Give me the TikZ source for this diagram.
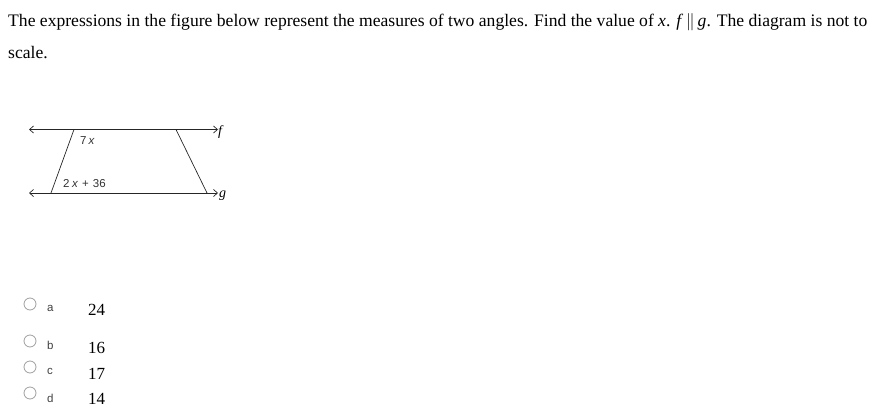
\documentclass[tikz,border=0pt]{standalone}
\usepackage{fontspec}
\setmainfont{Liberation Serif}
\newfontfamily\labelfont{Liberation Sans}
\usetikzlibrary{arrows.meta}

\begin{document}
\begin{tikzpicture}[x=1pt,y=-1pt,
    txt/.style={anchor=base west,inner sep=0pt,font=\fontsize{17.6}{21}\selectfont},
    val/.style={anchor=base west,inner sep=0pt,font=\fontsize{17}{20}\selectfont},
    optcircle/.style={circle,draw=gray!75,line width=.8pt,minimum size=12pt,inner sep=0pt},
    letter/.style={anchor=base west,inner sep=0pt,text=black!75,font=\labelfont\fontsize{11.5}{13}\selectfont},
    angle label/.style={anchor=base west,inner sep=0pt,text=black!80,font=\labelfont\fontsize{11.5}{13}\selectfont},
    line label/.style={anchor=base west,inner sep=0pt,font=\itshape\fontsize{14}{16}\selectfont},
    ln/.style={line width=.7pt,black!85,arrows={Straight Barb[length=4pt,width=7pt]-Straight Barb[length=4pt,width=7pt]}}]
    \useasboundingbox (0,0) rectangle (883,412);
    \node[txt] (q1) at (8,27) {The expressions in the figure below represent the measures of two angles. Find the value of \textit{x}. \textit{f}\,$\|$\,\textit{g}. The diagram is not to};
    \node[txt] (q2) at (8,59) {scale.};
    % parallel lines and transversals
    \coordinate (fL) at (29,129.5);
    \coordinate (fR) at (218,129.5);
    \coordinate (gL) at (29,193);
    \coordinate (gR) at (218,193);
    \coordinate (A) at (74,129.5);
    \coordinate (B) at (51,193);
    \coordinate (C) at (176,129.5);
    \coordinate (D) at (207,193);
    \draw[ln] (fL) -- (fR);
    \draw[ln] (gL) -- (gR);
    \draw[line width=.7pt,black!85] (A) -- (B)
      (C) -- (D);
    \node[line label] (f) at (218,135) {f};
    \node[line label] (g) at (219,197) {g};
    \node[angle label] (top) at (80,144) {7\hspace{2pt}\textit{x}};
    \node[angle label] (bot) at (63,187.5) {2\hspace{2.5pt}\textit{x}\hspace{4pt}+\hspace{4pt}36};
    % answer choices
    \foreach \name/\val/\cy/\by/\vy in {a/24/304/311/315, b/16/341/349/353, c/17/367/374/379, d/14/393/402/404}{
      \node[optcircle] (o\name) at (30,\cy) {};
      \node[letter] (l\name) at (47,\by) {\name};
      \node[val] (v\name) at (88,\vy) {\val};
    }
\end{tikzpicture}
\end{document}
